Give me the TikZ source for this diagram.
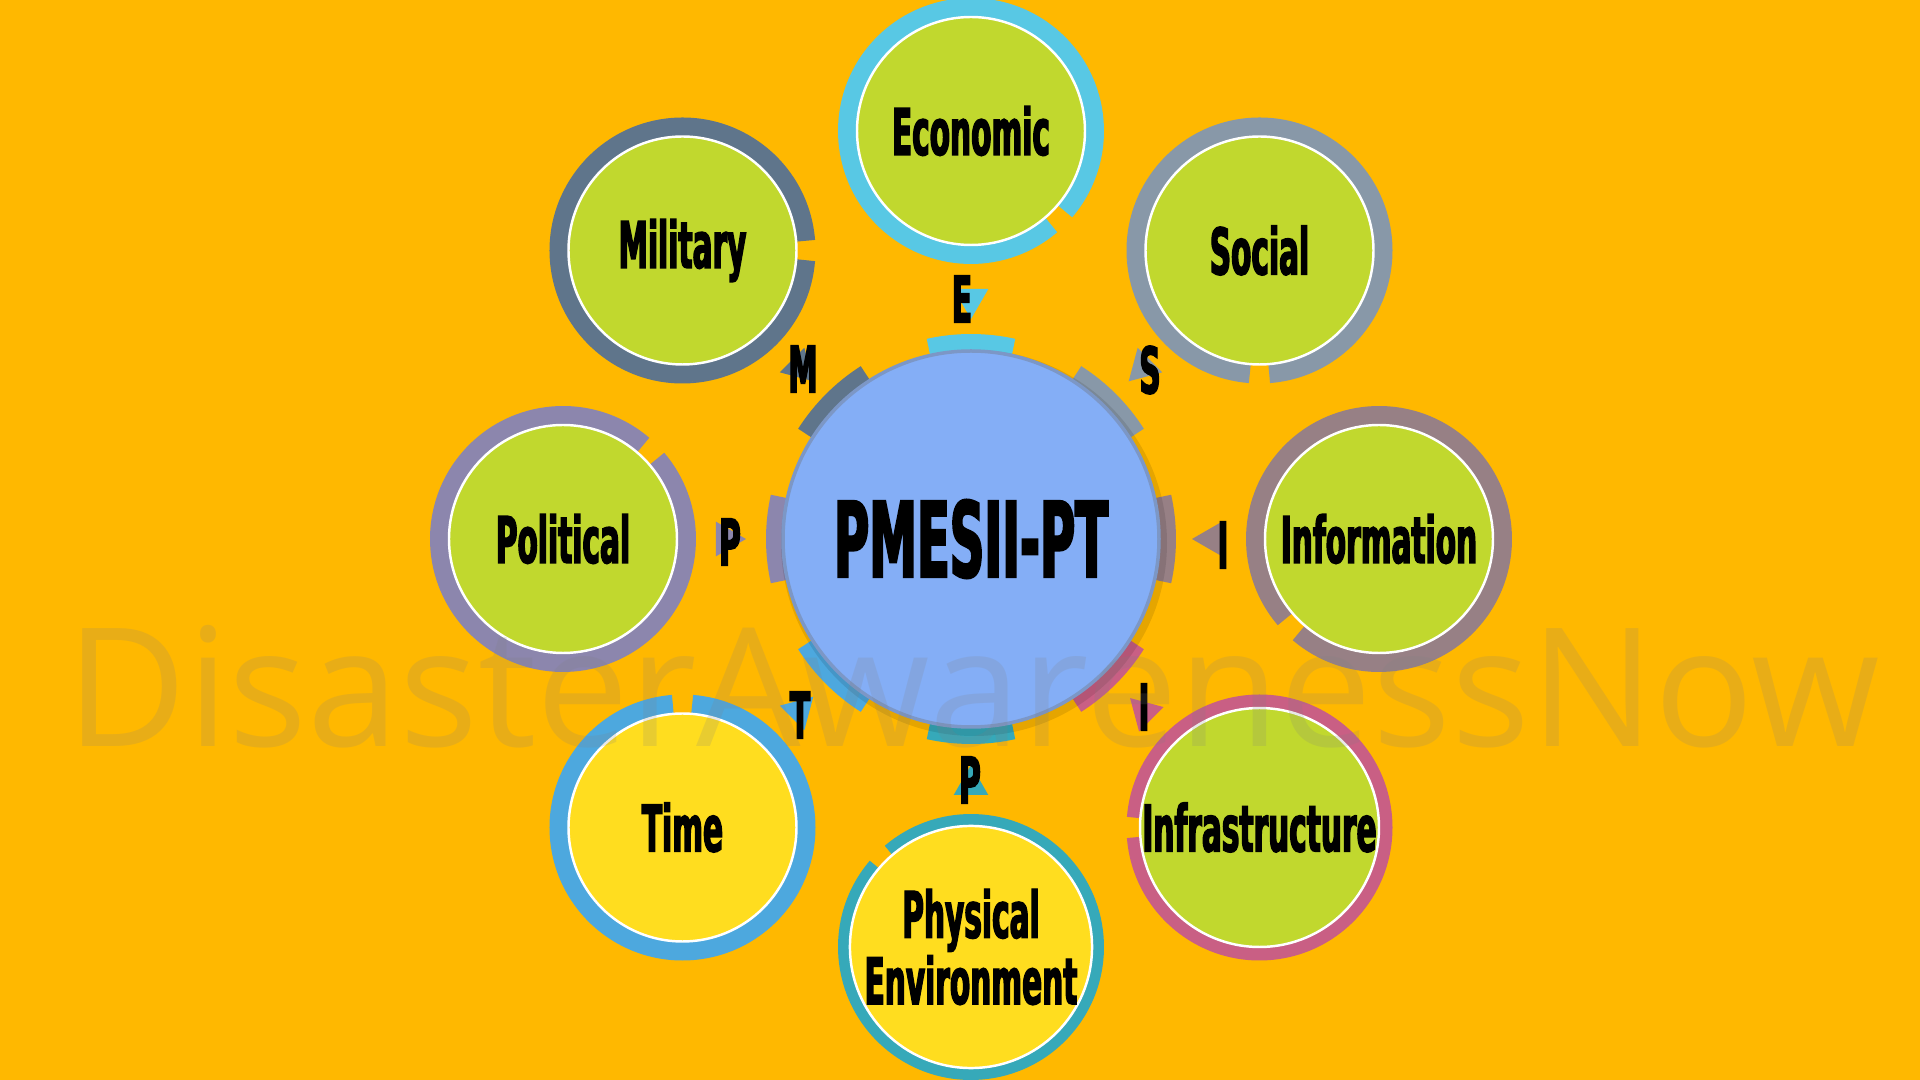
\documentclass[tikz,border=0pt]{standalone}
\usepackage{fontspec}
\usepackage{tikz}
\usetikzlibrary{shapes.geometric}

\newfontfamily\haett[FakeStretch=0.46,FakeBold=2]{DejaVu Sans}
\newfontfamily\marca{Open Sans}

\definecolor{fondo}{HTML}{FFB800}
\definecolor{verde}{HTML}{C1D82E}
\definecolor{amarillo}{HTML}{FFDD1F}
\definecolor{azulcentro}{HTML}{84AEF6}
\definecolor{bordecentro}{HTML}{7C97C6}
\definecolor{cEco}{HTML}{58C8E4}
\definecolor{cSoc}{HTML}{8898A8}
\definecolor{cInf}{HTML}{978085}
\definecolor{cIfr}{HTML}{C95F84}
\definecolor{cFis}{HTML}{36A9B9}
\definecolor{cTie}{HTML}{4DA8DE}
\definecolor{cPol}{HTML}{8C86AD}
\definecolor{cMil}{HTML}{5F758B}

\begin{document}
\begin{tikzpicture}[
    sat/.style={circle, minimum size=2.28cm, inner sep=0pt, draw=white, line width=0.7pt,
        align=center, font=\haett\bfseries\fontsize{18.3}{16.8}\selectfont},
    anillo/.style={line width=0.19cm},
    segmento/.style={line width=0.2cm},
    letra/.style={inner sep=0pt, font=\haett\bfseries\fontsize{18.3}{18}\selectfont},
    flecha/.style={regular polygon, regular polygon sides=3, minimum size=0.4cm, inner sep=0pt}
]
    % Fondo
    \fill[fondo] (-9.71,-5.41) rectangle (9.49,5.39);
    \useasboundingbox (-9.71,-5.41) rectangle (9.49,5.39);

    % Posiciones
    \coordinate (centro) at (0,0);
    \coordinate (eco) at (90:4.08);
    \coordinate (soc) at (45:4.08);
    \coordinate (inf) at (0:4.08);
    \coordinate (ifr) at (-45:4.08);
    \coordinate (fis) at (-90:4.08);
    \coordinate (tie) at (-135:4.08);
    \coordinate (pol) at (180:4.08);
    \coordinate (mil) at (135:4.08);

    % Segmentos alrededor del centro
    \draw[segmento, cEco] (centro) ++(77.5:1.95) arc[start angle=77.5, end angle=102.5, radius=1.95];
    \draw[segmento, cSoc] (centro) ++(32.5:1.95) arc[start angle=32.5, end angle=57.5, radius=1.95];
    \draw[segmento, cInf] (centro) ++(-12.5:1.95) arc[start angle=-12.5, end angle=12.5, radius=1.95];
    \draw[segmento, cIfr] (centro) ++(-57.5:1.95) arc[start angle=-57.5, end angle=-32.5, radius=1.95];
    \draw[segmento, cFis] (centro) ++(-102.5:1.95) arc[start angle=-102.5, end angle=-77.5, radius=1.95];
    \draw[segmento, cTie] (centro) ++(-147.5:1.95) arc[start angle=-147.5, end angle=-122.5, radius=1.95];
    \draw[segmento, cPol] (centro) ++(167.5:1.95) arc[start angle=167.5, end angle=192.5, radius=1.95];
    \draw[segmento, cMil] (centro) ++(122.5:1.95) arc[start angle=122.5, end angle=147.5, radius=1.95];

    % Circulo central
    \fill[black, opacity=0.10] (0.03,-0.04) circle (1.93);
    \node[circle, minimum size=3.76cm, inner sep=0pt, fill=azulcentro, draw=bordecentro,
        line width=0.035cm, font=\haett\bfseries\fontsize{29.7}{30}\selectfont]
        (pmesii) at (centro) {PMESII-PT};

    % Anillos
    \draw[anillo, cEco] (eco) ++(229.5:1.235) arc[start angle=229.5, end angle=310.5, radius=1.235]
        (eco) ++(319.5:1.235) arc[start angle=319.5, end angle=589.5, radius=1.235];
    \draw[anillo, cSoc] (soc) ++(184.5:1.235) arc[start angle=184.5, end angle=265.5, radius=1.235]
        (soc) ++(274.5:1.235) arc[start angle=274.5, end angle=544.5, radius=1.235];
    \draw[anillo, cInf] (inf) ++(139.5:1.235) arc[start angle=139.5, end angle=220.5, radius=1.235]
        (inf) ++(229.5:1.235) arc[start angle=229.5, end angle=499.5, radius=1.235];
    \draw[anillo, cIfr] (ifr) ++(94.5:1.235) arc[start angle=94.5, end angle=175.5, radius=1.235]
        (ifr) ++(184.5:1.235) arc[start angle=184.5, end angle=454.5, radius=1.235];
    \draw[anillo, cFis] (fis) ++(49.5:1.235) arc[start angle=49.5, end angle=130.5, radius=1.235]
        (fis) ++(139.5:1.235) arc[start angle=139.5, end angle=409.5, radius=1.235];
    \draw[anillo, cTie] (tie) ++(4.5:1.235) arc[start angle=4.5, end angle=85.5, radius=1.235]
        (tie) ++(94.5:1.235) arc[start angle=94.5, end angle=364.5, radius=1.235];
    \draw[anillo, cPol] (pol) ++(-40.5:1.235) arc[start angle=-40.5, end angle=40.5, radius=1.235]
        (pol) ++(49.5:1.235) arc[start angle=49.5, end angle=319.5, radius=1.235];
    \draw[anillo, cMil] (mil) ++(-85.5:1.235) arc[start angle=-85.5, end angle=-4.5, radius=1.235]
        (mil) ++(4.5:1.235) arc[start angle=4.5, end angle=274.5, radius=1.235];

    % Circulos de los factores
    \node[sat, fill=verde] (economic) at (eco) {Economic};
    \node[sat, fill=verde] (social) at (soc) {Social};
    \node[sat, fill=verde] (information) at (inf) {Information};
    \node[sat, fill=verde] (infrastructure) at (ifr) {Infrastructure};
    \node[sat, fill=amarillo] (physical) at (fis) {Physical\\Environment};
    \node[sat, fill=amarillo] (time) at (tie) {Time};
    \node[sat, fill=verde] (political) at (pol) {Political};
    \node[sat, fill=verde] (military) at (mil) {Military};

    % Puntas de flecha (hacia el centro)
    \node[flecha, fill=cEco, rotate=180] (fE) at (90:2.40) {};
    \node[flecha, fill=cSoc, rotate=135] (fS) at (45:2.43) {};
    \node[flecha, fill=cInf, rotate=90] (fI) at (0:2.41) {};
    \node[flecha, fill=cIfr, rotate=45] (fI2) at (-45:2.45) {};
    \node[flecha, fill=cFis, rotate=0] (fP) at (-90:2.46) {};
    \node[flecha, fill=cTie, rotate=-45] (fT) at (-135:2.43) {};
    \node[flecha, fill=cPol, rotate=-90] (fP2) at (180:2.45) {};
    \node[flecha, fill=cMil, rotate=-135] (fM) at (135:2.43) {};

    % Letras
    \node[letra] (lE) at (-0.09,2.40) {E};
    \node[letra] (lS) at (1.79,1.69) {S};
    \node[letra] (lI) at (2.52,-0.06) {I};
    \node[letra] (lI2) at (1.73,-1.68) {I};
    \node[letra] (lP) at (-0.01,-2.41) {P};
    \node[letra] (lT) at (-1.71,-1.76) {T};
    \node[letra] (lP2) at (-2.41,-0.03) {P};
    \node[letra] (lM) at (-1.68,1.70) {M};

    % Marca de agua
    \node[anchor=base west, inner sep=0pt, gray, opacity=0.18,
        font=\marca\fontsize{47}{47}\selectfont] (marca) at (-9.05,-2.08) {DisasterAwarenessNow};
\end{tikzpicture}
\end{document}
